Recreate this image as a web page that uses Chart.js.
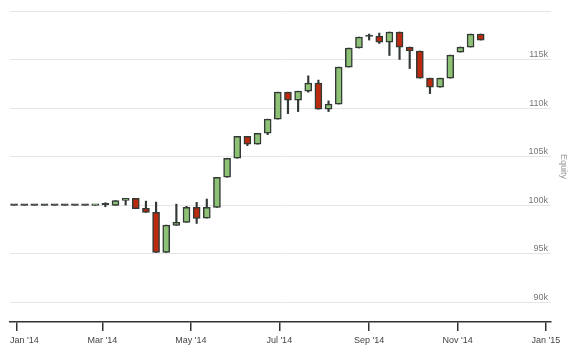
<!DOCTYPE html>
<html lang="en">
<head>
    <meta charset="UTF-8">
    <title>Equity</title>
    <script src="https://cdn.jsdelivr.net/npm/chart.js"></script>
    <style>
        body {
            margin: 0;
            padding: 0;
            background-color: #fff;
        }
        .chart-container {
            width: 580px;
            height: 360px;
        }
    </style>
</head>
<body>
    <div class="chart-container">
        <canvas id="equityChart"></canvas>
    </div>

    <script>
        // Weekly candles (week start dates)
        const weeks = [
            '2013-12-30', '2014-01-06', '2014-01-13', '2014-01-20', '2014-01-27',
            '2014-02-03', '2014-02-10', '2014-02-17', '2014-02-24', '2014-03-03',
            '2014-03-10', '2014-03-17', '2014-03-24', '2014-03-31', '2014-04-07',
            '2014-04-14', '2014-04-21', '2014-04-28', '2014-05-05', '2014-05-12',
            '2014-05-19', '2014-05-26', '2014-06-02', '2014-06-09', '2014-06-16',
            '2014-06-23', '2014-06-30', '2014-07-07', '2014-07-14', '2014-07-21',
            '2014-07-28', '2014-08-04', '2014-08-11', '2014-08-18', '2014-08-25',
            '2014-09-01', '2014-09-08', '2014-09-15', '2014-09-22', '2014-09-29',
            '2014-10-06', '2014-10-13', '2014-10-20', '2014-10-27', '2014-11-03',
            '2014-11-10', '2014-11-17'
        ];

        const open = [
            100000, 100000, 100000, 100000, 100000, 100000, 100000, 100000, 100000, 100060,
            100000, 100520, 100720, 99690, 99280, 95150, 97940, 98250, 99790, 98690,
            99790, 102890, 104850, 107110, 106290, 107420, 108870, 111650, 110820, 111750,
            112580, 109900, 110420, 114230, 116190, 117380, 117420, 116800, 117840, 116290,
            115880, 113090, 112160, 113090, 115770, 116290, 117630
        ];
        const high = [
            100000, 100000, 100000, 100000, 100000, 100000, 100000, 100000, 100100, 100270,
            100500, 100720, 100720, 100440, 100340, 97970, 100130, 99900, 100310, 100650,
            102890, 104850, 107110, 107110, 107420, 108870, 111650, 111650, 111750, 113330,
            112890, 110750, 114230, 116190, 117320, 117630, 117730, 117840, 117840, 116290,
            115880, 113090, 113090, 115460, 116290, 117630, 117630
        ];
        const low = [
            100000, 100000, 100000, 100000, 100000, 100000, 100000, 100000, 100000, 99860,
            100000, 100030, 99650, 99280, 95150, 95150, 97940, 98250, 98140, 98690,
            99790, 102890, 104850, 106140, 106290, 107280, 108870, 109440, 109650, 111650,
            109900, 109650, 110420, 114230, 116190, 117010, 116660, 115420, 115010, 114080,
            113090, 111500, 112160, 113090, 115770, 116290, 117010
        ];
        const close = [
            100000, 100000, 100000, 100000, 100000, 100000, 100000, 100000, 100100, 100060,
            100500, 100720, 99650, 99280, 95150, 97970, 98250, 99790, 98660, 99790,
            102890, 104850, 107110, 106290, 107420, 108870, 111650, 110820, 111750, 112580,
            109900, 110420, 114230, 116190, 117320, 117380, 116800, 117840, 116290, 115880,
            113090, 112160, 113090, 115460, 116290, 117630, 117010
        ];

        // Axis ticks
        const monthTicks = ['2014-01-01', '2014-03-01', '2014-05-01', '2014-07-01', '2014-09-01', '2014-11-01', '2015-01-01'];
        const monthLabels = ["Jan '14", "Mar '14", "May '14", "Jul '14", "Sep '14", "Nov '14", "Jan '15"];
        const equityTicks = [90000, 95000, 100000, 105000, 110000, 115000, 120000];

        // days since Jan 1 2014
        const day0 = Date.UTC(2014, 0, 1);
        function toDay(s) {
            const p = s.split('-');
            return (Date.UTC(+p[0], +p[1] - 1, +p[2]) - day0) / 86400000;
        }
        const weekDays = weeks.map(toDay);
        const tickDays = monthTicks.map(toDay);

        const upColor = '#8dc176';
        const downColor = '#bb290e';
        const edgeColor = '#333a36';

        // flat weeks (open == close) are drawn as a plain dark dash
        function bodyColor(o, i) {
            if (close[i] === o) return edgeColor;
            return close[i] > o ? upColor : downColor;
        }

        const ctx = document.getElementById('equityChart').getContext('2d');
        const equityChart = new Chart(ctx, {
            type: 'bar',
            data: {
                datasets: [{
                    label: 'Body',
                    data: weekDays.map((d, i) => ({ x: d, y: [open[i], close[i]] })),
                    backgroundColor: open.map(bodyColor),
                    borderColor: edgeColor,
                    borderWidth: 1.5,
                    borderSkipped: false,
                    barThickness: 7,
                    minBarLength: 1.5,
                    grouped: false,
                    order: 1
                }, {
                    label: 'Wick',
                    data: weekDays.map((d, i) => ({ x: d, y: [low[i], high[i]] })),
                    backgroundColor: edgeColor,
                    borderWidth: 0,
                    barThickness: 1.5,
                    grouped: false,
                    order: 2
                }]
            },
            options: {
                responsive: true,
                maintainAspectRatio: false,
                animation: false,
                layout: {
                    padding: { left: 10, top: 11, right: 0, bottom: 0 }
                },
                plugins: {
                    legend: { display: false },
                    tooltip: { enabled: false }
                },
                scales: {
                    x: {
                        type: 'linear',
                        min: -4.8,
                        max: 368.5,
                        offset: false,
                        grid: {
                            offset: false,
                            drawOnChartArea: false,
                            drawTicks: true,
                            tickLength: 9,
                            color: '#333',
                            lineWidth: 1.5
                        },
                        border: { display: true, color: '#333', width: 1.5 },
                        afterBuildTicks: s => { s.ticks = tickDays.map(v => ({ value: v })); },
                        afterFit: s => { s.height = 38; s.paddingLeft = 0; s.paddingRight = 0; },
                        ticks: {
                            autoSkip: false,
                            maxRotation: 0,
                            padding: 4,
                            color: '#444',
                            font: { family: 'Liberation Sans, Arial', size: 9 },
                            // first label sits inside the plot edge, like the original
                            callback: (v, i) => i === 0 ? '      ' + monthLabels[i] : monthLabels[i]
                        }
                    },
                    y: {
                        position: 'right',
                        min: 88000,
                        max: 120000,
                        grid: { color: '#e6e6e6', lineWidth: 1, drawTicks: false },
                        border: { display: false },
                        afterBuildTicks: s => { s.ticks = equityTicks.map(v => ({ value: v })); },
                        afterFit: s => { s.width = 29; },
                        title: {
                            display: true,
                            text: 'Equity',
                            color: '#999',
                            font: { family: 'Liberation Sans, Arial', size: 9 },
                            padding: { top: 11, bottom: 4 }
                        },
                        ticks: {
                            mirror: true,
                            padding: -3,
                            labelOffset: -5,
                            color: '#777',
                            font: { family: 'Liberation Sans, Arial', size: 9 },
                            callback: v => v === 120000 ? '' : (v / 1000) + 'k'
                        }
                    }
                }
            }
        });
    </script>
</body>
</html>
